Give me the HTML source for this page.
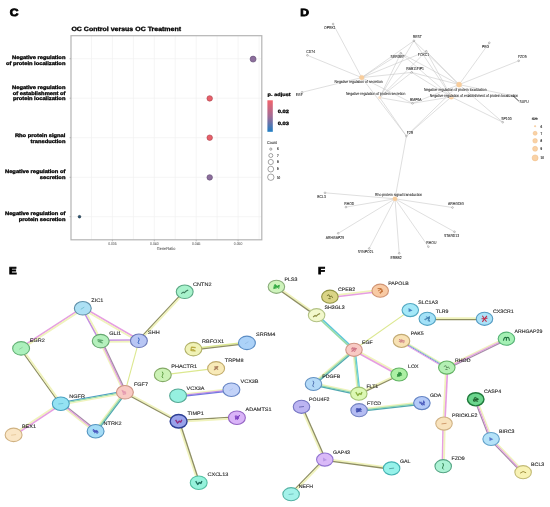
<!DOCTYPE html>
<html><head><meta charset="utf-8"><title>Figure</title>
<style>
html,body{margin:0;padding:0;background:#fff;}
body{width:550px;height:507px;overflow:hidden;}
svg{display:block;text-rendering:geometricPrecision;font-family:'Liberation Sans', Arial, sans-serif;}
</style></head><body>
<svg width="550" height="507" viewBox="0 0 550 507">
<rect width="550" height="507" fill="#fff"/>
<g id="panelC">
<text transform="translate(9.80,15.60) scale(0.6038,0.5250)" font-size="20" font-weight="bold" fill="#000" stroke="#000" stroke-width="1.524">C</text>
<text transform="translate(71.40,31.20) scale(0.3500,0.3070)" font-size="20" font-weight="bold" fill="#000" stroke="#000" stroke-width="0.977">OC Control versus OC Treatment</text>
<line x1="91.5" y1="35.7" x2="91.5" y2="239.8" stroke="#f0f0f0" stroke-width="0.7"/>
<line x1="133.4" y1="35.7" x2="133.4" y2="239.8" stroke="#f0f0f0" stroke-width="0.7"/>
<line x1="175.2" y1="35.7" x2="175.2" y2="239.8" stroke="#f0f0f0" stroke-width="0.7"/>
<line x1="217.1" y1="35.7" x2="217.1" y2="239.8" stroke="#f0f0f0" stroke-width="0.7"/>
<line x1="259.1" y1="35.7" x2="259.1" y2="239.8" stroke="#f0f0f0" stroke-width="0.7"/>
<line x1="112.4" y1="35.7" x2="112.4" y2="239.8" stroke="#f0f0f0" stroke-width="0.7"/>
<line x1="154.3" y1="35.7" x2="154.3" y2="239.8" stroke="#f0f0f0" stroke-width="0.7"/>
<line x1="196.2" y1="35.7" x2="196.2" y2="239.8" stroke="#f0f0f0" stroke-width="0.7"/>
<line x1="238.1" y1="35.7" x2="238.1" y2="239.8" stroke="#f0f0f0" stroke-width="0.7"/>
<line x1="71.0" y1="58.7" x2="261.8" y2="58.7" stroke="#f0f0f0" stroke-width="0.7"/>
<line x1="71.0" y1="98.2" x2="261.8" y2="98.2" stroke="#f0f0f0" stroke-width="0.7"/>
<line x1="71.0" y1="137.7" x2="261.8" y2="137.7" stroke="#f0f0f0" stroke-width="0.7"/>
<line x1="71.0" y1="177.3" x2="261.8" y2="177.3" stroke="#f0f0f0" stroke-width="0.7"/>
<line x1="71.0" y1="216.7" x2="261.8" y2="216.7" stroke="#f0f0f0" stroke-width="0.7"/>
<rect x="71.0" y="35.7" width="190.8" height="204.10000000000002" fill="none" stroke="#b4b4b4" stroke-width="1.2"/>
<line x1="69.5" y1="58.7" x2="71.0" y2="58.7" stroke="#999" stroke-width="0.6"/>
<line x1="69.5" y1="98.2" x2="71.0" y2="98.2" stroke="#999" stroke-width="0.6"/>
<line x1="69.5" y1="137.7" x2="71.0" y2="137.7" stroke="#999" stroke-width="0.6"/>
<line x1="69.5" y1="177.3" x2="71.0" y2="177.3" stroke="#999" stroke-width="0.6"/>
<line x1="69.5" y1="216.7" x2="71.0" y2="216.7" stroke="#999" stroke-width="0.6"/>
<line x1="112.4" y1="239.8" x2="112.4" y2="241.3" stroke="#999" stroke-width="0.6"/>
<line x1="154.3" y1="239.8" x2="154.3" y2="241.3" stroke="#999" stroke-width="0.6"/>
<line x1="196.2" y1="239.8" x2="196.2" y2="241.3" stroke="#999" stroke-width="0.6"/>
<line x1="238.1" y1="239.8" x2="238.1" y2="241.3" stroke="#999" stroke-width="0.6"/>
<text transform="translate(112.40,245.00) scale(0.1700,0.2000)" font-size="20" text-anchor="middle" fill="#444">0.035</text>
<text transform="translate(154.30,245.00) scale(0.1700,0.2000)" font-size="20" text-anchor="middle" fill="#444">0.040</text>
<text transform="translate(196.20,245.00) scale(0.1700,0.2000)" font-size="20" text-anchor="middle" fill="#444">0.045</text>
<text transform="translate(238.10,245.00) scale(0.1700,0.2000)" font-size="20" text-anchor="middle" fill="#444">0.050</text>
<text transform="translate(166.00,250.40) scale(0.1950,0.2191)" font-size="20" text-anchor="middle" fill="#333">GeneRatio</text>
<text transform="translate(65.40,58.60) scale(0.2875,0.2500)" font-size="20" text-anchor="end" font-weight="bold" fill="#000" stroke="#000" stroke-width="1.200">Negative regulation</text>
<text transform="translate(65.40,64.50) scale(0.2875,0.2500)" font-size="20" text-anchor="end" font-weight="bold" fill="#000" stroke="#000" stroke-width="1.200">of protein localization</text>
<text transform="translate(65.40,88.60) scale(0.2875,0.2500)" font-size="20" text-anchor="end" font-weight="bold" fill="#000" stroke="#000" stroke-width="1.200">Negative regulation</text>
<text transform="translate(65.40,94.50) scale(0.2875,0.2500)" font-size="20" text-anchor="end" font-weight="bold" fill="#000" stroke="#000" stroke-width="1.200">of establishment of</text>
<text transform="translate(65.40,100.30) scale(0.2875,0.2500)" font-size="20" text-anchor="end" font-weight="bold" fill="#000" stroke="#000" stroke-width="1.200">protein localization</text>
<text transform="translate(65.40,136.60) scale(0.2875,0.2500)" font-size="20" text-anchor="end" font-weight="bold" fill="#000" stroke="#000" stroke-width="1.200">Rho protein signal</text>
<text transform="translate(65.40,142.60) scale(0.2875,0.2500)" font-size="20" text-anchor="end" font-weight="bold" fill="#000" stroke="#000" stroke-width="1.200">transduction</text>
<text transform="translate(65.40,172.80) scale(0.2875,0.2500)" font-size="20" text-anchor="end" font-weight="bold" fill="#000" stroke="#000" stroke-width="1.200">Negative regulation of</text>
<text transform="translate(65.40,178.80) scale(0.2875,0.2500)" font-size="20" text-anchor="end" font-weight="bold" fill="#000" stroke="#000" stroke-width="1.200">secretion</text>
<text transform="translate(65.40,214.70) scale(0.2875,0.2500)" font-size="20" text-anchor="end" font-weight="bold" fill="#000" stroke="#000" stroke-width="1.200">Negative regulation of</text>
<text transform="translate(65.40,220.80) scale(0.2875,0.2500)" font-size="20" text-anchor="end" font-weight="bold" fill="#000" stroke="#000" stroke-width="1.200">protein secretion</text>
<circle cx="253.1" cy="59.1" r="3.0" fill="#8c6e9c" stroke="#5e4870" stroke-width="0.6"/>
<circle cx="209.7" cy="98.4" r="2.75" fill="#e8606a" stroke="#a8404a" stroke-width="0.6"/>
<circle cx="209.7" cy="137.7" r="2.75" fill="#e8606a" stroke="#a8404a" stroke-width="0.6"/>
<circle cx="209.7" cy="177.4" r="2.75" fill="#8c6e9c" stroke="#5e4870" stroke-width="0.6"/>
<circle cx="79.5" cy="216.7" r="1.3" fill="#24567c" stroke="#10202c" stroke-width="0.6"/>
<text transform="translate(267.60,95.90) scale(0.2800,0.2333)" font-size="20" font-weight="bold" fill="#000" stroke="#000" stroke-width="1.071">p. adjust</text>
<defs><linearGradient id="pg" x1="0" y1="0" x2="0" y2="1"><stop offset="0" stop-color="#f2636b"/><stop offset="0.5" stop-color="#a46c95"/><stop offset="1" stop-color="#1f7ec4"/></linearGradient></defs>
<rect x="267.4" y="100.3" width="5.4" height="31.5" fill="url(#pg)"/>
<text transform="translate(277.80,113.10) scale(0.2850,0.2375)" font-size="20" font-weight="bold" fill="#000" stroke="#000" stroke-width="1.263">0.02</text>
<text transform="translate(277.80,124.90) scale(0.2850,0.2375)" font-size="20" font-weight="bold" fill="#000" stroke="#000" stroke-width="1.263">0.03</text>
<text transform="translate(267.10,143.60) scale(0.1800,0.2143)" font-size="20" fill="#222" stroke="#222" stroke-width="0.373">Count</text>
<circle cx="270.8" cy="149.1" r="1.1" fill="none" stroke="#5a5a5a" stroke-width="0.55"/>
<text transform="translate(276.90,150.40) scale(0.1500,0.1875)" font-size="20" fill="#222" stroke="#222" stroke-width="0.800">6</text>
<circle cx="270.8" cy="155.5" r="2.0" fill="none" stroke="#5a5a5a" stroke-width="0.55"/>
<text transform="translate(276.90,156.80) scale(0.1500,0.1875)" font-size="20" fill="#222" stroke="#222" stroke-width="0.800">7</text>
<circle cx="270.8" cy="162.0" r="2.6" fill="none" stroke="#5a5a5a" stroke-width="0.55"/>
<text transform="translate(276.90,163.30) scale(0.1500,0.1875)" font-size="20" fill="#222" stroke="#222" stroke-width="0.800">8</text>
<circle cx="270.8" cy="169.1" r="2.9" fill="none" stroke="#5a5a5a" stroke-width="0.55"/>
<text transform="translate(276.90,170.40) scale(0.1500,0.1875)" font-size="20" fill="#222" stroke="#222" stroke-width="0.800">9</text>
<circle cx="270.8" cy="177.2" r="3.2" fill="none" stroke="#5a5a5a" stroke-width="0.55"/>
<text transform="translate(276.90,178.50) scale(0.1500,0.1875)" font-size="20" fill="#222" stroke="#222" stroke-width="0.800">10</text>
</g>
<g id="panelD">
<text transform="translate(300.20,15.50) scale(0.6038,0.5250)" font-size="20" font-weight="bold" fill="#000" stroke="#000" stroke-width="1.524">D</text>
<line x1="333.1" y1="24.0" x2="361.7" y2="77.6" stroke="#c4c4c4" stroke-width="0.55"/>
<line x1="307.4" y1="55.3" x2="361.7" y2="77.6" stroke="#c4c4c4" stroke-width="0.55"/>
<line x1="302.0" y1="92.3" x2="361.7" y2="77.6" stroke="#c4c4c4" stroke-width="0.55"/>
<line x1="489.3" y1="42.8" x2="459.1" y2="84.6" stroke="#c4c4c4" stroke-width="0.55"/>
<line x1="518.7" y1="60.8" x2="459.1" y2="84.6" stroke="#c4c4c4" stroke-width="0.55"/>
<line x1="513.0" y1="96.0" x2="451.3" y2="96.9" stroke="#c4c4c4" stroke-width="0.55"/>
<line x1="502.7" y1="122.2" x2="451.3" y2="96.9" stroke="#c4c4c4" stroke-width="0.55"/>
<line x1="325.0" y1="192.8" x2="395.0" y2="198.8" stroke="#c4c4c4" stroke-width="0.55"/>
<line x1="345.9" y1="207.1" x2="395.0" y2="198.8" stroke="#c4c4c4" stroke-width="0.55"/>
<line x1="452.5" y1="207.5" x2="395.0" y2="198.8" stroke="#c4c4c4" stroke-width="0.55"/>
<line x1="338.2" y1="233.3" x2="395.0" y2="198.8" stroke="#c4c4c4" stroke-width="0.55"/>
<line x1="369.2" y1="248.5" x2="395.0" y2="198.8" stroke="#c4c4c4" stroke-width="0.55"/>
<line x1="399.2" y1="253.3" x2="395.0" y2="198.8" stroke="#c4c4c4" stroke-width="0.55"/>
<line x1="428.4" y1="246.7" x2="395.0" y2="198.8" stroke="#c4c4c4" stroke-width="0.55"/>
<line x1="454.5" y1="231.8" x2="395.0" y2="198.8" stroke="#c4c4c4" stroke-width="0.55"/>
<line x1="413.9" y1="40.8" x2="361.7" y2="77.6" stroke="#c4c4c4" stroke-width="0.55"/>
<line x1="413.9" y1="40.8" x2="379.7" y2="97.6" stroke="#c4c4c4" stroke-width="0.55"/>
<line x1="413.9" y1="40.8" x2="459.1" y2="84.6" stroke="#c4c4c4" stroke-width="0.55"/>
<line x1="413.9" y1="40.8" x2="451.3" y2="96.9" stroke="#c4c4c4" stroke-width="0.55"/>
<line x1="400.8" y1="53.2" x2="361.7" y2="77.6" stroke="#c4c4c4" stroke-width="0.55"/>
<line x1="400.8" y1="53.2" x2="379.7" y2="97.6" stroke="#c4c4c4" stroke-width="0.55"/>
<line x1="400.8" y1="53.2" x2="459.1" y2="84.6" stroke="#c4c4c4" stroke-width="0.55"/>
<line x1="400.8" y1="53.2" x2="451.3" y2="96.9" stroke="#c4c4c4" stroke-width="0.55"/>
<line x1="426.3" y1="51.3" x2="361.7" y2="77.6" stroke="#c4c4c4" stroke-width="0.55"/>
<line x1="426.3" y1="51.3" x2="379.7" y2="97.6" stroke="#c4c4c4" stroke-width="0.55"/>
<line x1="426.3" y1="51.3" x2="459.1" y2="84.6" stroke="#c4c4c4" stroke-width="0.55"/>
<line x1="426.3" y1="51.3" x2="451.3" y2="96.9" stroke="#c4c4c4" stroke-width="0.55"/>
<line x1="411.7" y1="72.4" x2="361.7" y2="77.6" stroke="#c4c4c4" stroke-width="0.55"/>
<line x1="411.7" y1="72.4" x2="379.7" y2="97.6" stroke="#c4c4c4" stroke-width="0.55"/>
<line x1="411.7" y1="72.4" x2="459.1" y2="84.6" stroke="#c4c4c4" stroke-width="0.55"/>
<line x1="411.7" y1="72.4" x2="451.3" y2="96.9" stroke="#c4c4c4" stroke-width="0.55"/>
<line x1="412.5" y1="103.3" x2="361.7" y2="77.6" stroke="#c4c4c4" stroke-width="0.55"/>
<line x1="412.5" y1="103.3" x2="379.7" y2="97.6" stroke="#c4c4c4" stroke-width="0.55"/>
<line x1="412.5" y1="103.3" x2="459.1" y2="84.6" stroke="#c4c4c4" stroke-width="0.55"/>
<line x1="412.5" y1="103.3" x2="451.3" y2="96.9" stroke="#c4c4c4" stroke-width="0.55"/>
<line x1="406.4" y1="136.0" x2="361.7" y2="77.6" stroke="#c4c4c4" stroke-width="0.55"/>
<line x1="406.4" y1="136.0" x2="379.7" y2="97.6" stroke="#c4c4c4" stroke-width="0.55"/>
<line x1="406.4" y1="136.0" x2="451.3" y2="96.9" stroke="#c4c4c4" stroke-width="0.55"/>
<line x1="406.4" y1="136.0" x2="459.1" y2="84.6" stroke="#c4c4c4" stroke-width="0.55"/>
<line x1="406.4" y1="136.0" x2="395.0" y2="198.8" stroke="#c4c4c4" stroke-width="0.55"/>
<line x1="502.7" y1="122.2" x2="459.1" y2="84.6" stroke="#c4c4c4" stroke-width="0.55"/>
<line x1="513.0" y1="96.0" x2="459.1" y2="84.6" stroke="#c4c4c4" stroke-width="0.55"/>
<circle cx="361.7" cy="77.6" r="2.4" fill="#f8cd9c" stroke="#f8cd9c" stroke-width="0.3"/>
<circle cx="379.7" cy="97.6" r="1.3" fill="#fbe0c4" stroke="#fbe0c4" stroke-width="0.3"/>
<circle cx="459.1" cy="84.6" r="2.6" fill="#f8cd9c" stroke="#f8cd9c" stroke-width="0.3"/>
<circle cx="451.3" cy="96.9" r="2.4" fill="#f8cd9c" stroke="#f8cd9c" stroke-width="0.3"/>
<circle cx="395.0" cy="198.8" r="2.2" fill="#f8cd9c" stroke="#f8cd9c" stroke-width="0.3"/>
<circle cx="333.1" cy="24.0" r="0.85" fill="#fff" stroke="#555" stroke-width="0.35"/>
<circle cx="307.4" cy="55.3" r="0.85" fill="#fff" stroke="#555" stroke-width="0.35"/>
<circle cx="302.0" cy="92.3" r="0.85" fill="#fff" stroke="#555" stroke-width="0.35"/>
<circle cx="413.9" cy="40.8" r="0.85" fill="#fff" stroke="#555" stroke-width="0.35"/>
<circle cx="400.8" cy="53.2" r="0.85" fill="#fff" stroke="#555" stroke-width="0.35"/>
<circle cx="426.3" cy="51.3" r="0.85" fill="#fff" stroke="#555" stroke-width="0.35"/>
<circle cx="411.7" cy="72.4" r="0.85" fill="#fff" stroke="#555" stroke-width="0.35"/>
<circle cx="412.5" cy="103.3" r="0.85" fill="#fff" stroke="#555" stroke-width="0.35"/>
<circle cx="489.3" cy="42.8" r="0.85" fill="#fff" stroke="#555" stroke-width="0.35"/>
<circle cx="518.7" cy="60.8" r="0.85" fill="#fff" stroke="#555" stroke-width="0.35"/>
<circle cx="513.0" cy="96.0" r="0.85" fill="#fff" stroke="#555" stroke-width="0.35"/>
<circle cx="502.7" cy="122.2" r="0.85" fill="#fff" stroke="#555" stroke-width="0.35"/>
<circle cx="406.4" cy="136.0" r="0.85" fill="#fff" stroke="#555" stroke-width="0.35"/>
<circle cx="325.0" cy="192.8" r="0.85" fill="#fff" stroke="#555" stroke-width="0.35"/>
<circle cx="345.9" cy="207.1" r="0.85" fill="#fff" stroke="#555" stroke-width="0.35"/>
<circle cx="452.5" cy="207.5" r="0.85" fill="#fff" stroke="#555" stroke-width="0.35"/>
<circle cx="338.2" cy="233.3" r="0.85" fill="#fff" stroke="#555" stroke-width="0.35"/>
<circle cx="369.2" cy="248.5" r="0.85" fill="#fff" stroke="#555" stroke-width="0.35"/>
<circle cx="399.2" cy="253.3" r="0.85" fill="#fff" stroke="#555" stroke-width="0.35"/>
<circle cx="428.4" cy="246.7" r="0.85" fill="#fff" stroke="#555" stroke-width="0.35"/>
<circle cx="454.5" cy="231.8" r="0.85" fill="#fff" stroke="#555" stroke-width="0.35"/>
<text transform="translate(324.00,29.10) scale(0.1710,0.2085)" font-size="20" fill="#fff" stroke="#fff" stroke-width="3.357" stroke-linejoin="round" opacity="0.8">OPRK1</text>
<text transform="translate(306.30,52.80) scale(0.1710,0.2085)" font-size="20" fill="#fff" stroke="#fff" stroke-width="3.357" stroke-linejoin="round" opacity="0.8">CD74</text>
<text transform="translate(295.70,95.70) scale(0.1710,0.2085)" font-size="20" fill="#fff" stroke="#fff" stroke-width="3.357" stroke-linejoin="round" opacity="0.8">EGF</text>
<text transform="translate(412.70,38.40) scale(0.1710,0.2085)" font-size="20" fill="#fff" stroke="#fff" stroke-width="3.357" stroke-linejoin="round" opacity="0.8">REST</text>
<text transform="translate(390.60,58.00) scale(0.1710,0.2085)" font-size="20" fill="#fff" stroke="#fff" stroke-width="3.357" stroke-linejoin="round" opacity="0.8">SERGEF</text>
<text transform="translate(417.80,56.10) scale(0.1710,0.2085)" font-size="20" fill="#fff" stroke="#fff" stroke-width="3.357" stroke-linejoin="round" opacity="0.8">FOXC1</text>
<text transform="translate(406.20,69.90) scale(0.1710,0.2085)" font-size="20" fill="#fff" stroke="#fff" stroke-width="3.357" stroke-linejoin="round" opacity="0.8">RAB11FIP1</text>
<text transform="translate(410.00,100.80) scale(0.1710,0.2085)" font-size="20" fill="#fff" stroke="#fff" stroke-width="3.357" stroke-linejoin="round" opacity="0.8">BMP6A</text>
<text transform="translate(482.00,47.90) scale(0.1710,0.2085)" font-size="20" fill="#fff" stroke="#fff" stroke-width="3.357" stroke-linejoin="round" opacity="0.8">PKG</text>
<text transform="translate(518.00,58.10) scale(0.1710,0.2085)" font-size="20" fill="#fff" stroke="#fff" stroke-width="3.357" stroke-linejoin="round" opacity="0.8">FZD9</text>
<text transform="translate(519.50,103.30) scale(0.1710,0.2085)" font-size="20" fill="#fff" stroke="#fff" stroke-width="3.357" stroke-linejoin="round" opacity="0.8">SUFU</text>
<text transform="translate(501.30,119.70) scale(0.1710,0.2085)" font-size="20" fill="#fff" stroke="#fff" stroke-width="3.357" stroke-linejoin="round" opacity="0.8">SP100</text>
<text transform="translate(406.80,133.70) scale(0.1710,0.2085)" font-size="20" fill="#fff" stroke="#fff" stroke-width="3.357" stroke-linejoin="round" opacity="0.8">F2R</text>
<text transform="translate(317.30,197.80) scale(0.1710,0.2085)" font-size="20" fill="#fff" stroke="#fff" stroke-width="3.357" stroke-linejoin="round" opacity="0.8">BCL3</text>
<text transform="translate(344.20,204.70) scale(0.1710,0.2085)" font-size="20" fill="#fff" stroke="#fff" stroke-width="3.357" stroke-linejoin="round" opacity="0.8">RHOD</text>
<text transform="translate(448.00,204.80) scale(0.1710,0.2085)" font-size="20" fill="#fff" stroke="#fff" stroke-width="3.357" stroke-linejoin="round" opacity="0.8">ARHGDIG</text>
<text transform="translate(325.80,238.80) scale(0.1710,0.2085)" font-size="20" fill="#fff" stroke="#fff" stroke-width="3.357" stroke-linejoin="round" opacity="0.8">ARHGAP29</text>
<text transform="translate(357.80,253.40) scale(0.1710,0.2085)" font-size="20" fill="#fff" stroke="#fff" stroke-width="3.357" stroke-linejoin="round" opacity="0.8">SYNPO2L</text>
<text transform="translate(390.50,258.90) scale(0.1710,0.2085)" font-size="20" fill="#fff" stroke="#fff" stroke-width="3.357" stroke-linejoin="round" opacity="0.8">ERBB2</text>
<text transform="translate(426.30,243.90) scale(0.1710,0.2085)" font-size="20" fill="#fff" stroke="#fff" stroke-width="3.357" stroke-linejoin="round" opacity="0.8">RHOU</text>
<text transform="translate(444.00,237.10) scale(0.1710,0.2085)" font-size="20" fill="#fff" stroke="#fff" stroke-width="3.357" stroke-linejoin="round" opacity="0.8">STARD13</text>
<text transform="translate(334.60,83.40) scale(0.1710,0.2085)" font-size="20" fill="#fff" stroke="#fff" stroke-width="3.357" stroke-linejoin="round" opacity="0.8">Negative regulation of secretion</text>
<text transform="translate(345.90,94.90) scale(0.1710,0.2085)" font-size="20" fill="#fff" stroke="#fff" stroke-width="3.357" stroke-linejoin="round" opacity="0.8">Negative regulation of protein secretion</text>
<text transform="translate(424.00,91.10) scale(0.1710,0.2085)" font-size="20" fill="#fff" stroke="#fff" stroke-width="3.357" stroke-linejoin="round" opacity="0.8">Negative regulation of protein localization</text>
<text transform="translate(429.80,96.50) scale(0.1710,0.2085)" font-size="20" fill="#fff" stroke="#fff" stroke-width="3.357" stroke-linejoin="round" opacity="0.8">Negative regulation of establishment of protein localization</text>
<text transform="translate(375.10,196.20) scale(0.1710,0.2085)" font-size="20" fill="#fff" stroke="#fff" stroke-width="3.357" stroke-linejoin="round" opacity="0.8">Rho protein signal transduction</text>
<text transform="translate(324.00,29.10) scale(0.1710,0.2085)" font-size="20" fill="#111" stroke="#111" stroke-width="0.240">OPRK1</text>
<text transform="translate(306.30,52.80) scale(0.1710,0.2085)" font-size="20" fill="#111" stroke="#111" stroke-width="0.240">CD74</text>
<text transform="translate(295.70,95.70) scale(0.1710,0.2085)" font-size="20" fill="#111" stroke="#111" stroke-width="0.240">EGF</text>
<text transform="translate(412.70,38.40) scale(0.1710,0.2085)" font-size="20" fill="#111" stroke="#111" stroke-width="0.240">REST</text>
<text transform="translate(390.60,58.00) scale(0.1710,0.2085)" font-size="20" fill="#111" stroke="#111" stroke-width="0.240">SERGEF</text>
<text transform="translate(417.80,56.10) scale(0.1710,0.2085)" font-size="20" fill="#111" stroke="#111" stroke-width="0.240">FOXC1</text>
<text transform="translate(406.20,69.90) scale(0.1710,0.2085)" font-size="20" fill="#111" stroke="#111" stroke-width="0.240">RAB11FIP1</text>
<text transform="translate(410.00,100.80) scale(0.1710,0.2085)" font-size="20" fill="#111" stroke="#111" stroke-width="0.240">BMP6A</text>
<text transform="translate(482.00,47.90) scale(0.1710,0.2085)" font-size="20" fill="#111" stroke="#111" stroke-width="0.240">PKG</text>
<text transform="translate(518.00,58.10) scale(0.1710,0.2085)" font-size="20" fill="#111" stroke="#111" stroke-width="0.240">FZD9</text>
<text transform="translate(519.50,103.30) scale(0.1710,0.2085)" font-size="20" fill="#111" stroke="#111" stroke-width="0.240">SUFU</text>
<text transform="translate(501.30,119.70) scale(0.1710,0.2085)" font-size="20" fill="#111" stroke="#111" stroke-width="0.240">SP100</text>
<text transform="translate(406.80,133.70) scale(0.1710,0.2085)" font-size="20" fill="#111" stroke="#111" stroke-width="0.240">F2R</text>
<text transform="translate(317.30,197.80) scale(0.1710,0.2085)" font-size="20" fill="#111" stroke="#111" stroke-width="0.240">BCL3</text>
<text transform="translate(344.20,204.70) scale(0.1710,0.2085)" font-size="20" fill="#111" stroke="#111" stroke-width="0.240">RHOD</text>
<text transform="translate(448.00,204.80) scale(0.1710,0.2085)" font-size="20" fill="#111" stroke="#111" stroke-width="0.240">ARHGDIG</text>
<text transform="translate(325.80,238.80) scale(0.1710,0.2085)" font-size="20" fill="#111" stroke="#111" stroke-width="0.240">ARHGAP29</text>
<text transform="translate(357.80,253.40) scale(0.1710,0.2085)" font-size="20" fill="#111" stroke="#111" stroke-width="0.240">SYNPO2L</text>
<text transform="translate(390.50,258.90) scale(0.1710,0.2085)" font-size="20" fill="#111" stroke="#111" stroke-width="0.240">ERBB2</text>
<text transform="translate(426.30,243.90) scale(0.1710,0.2085)" font-size="20" fill="#111" stroke="#111" stroke-width="0.240">RHOU</text>
<text transform="translate(444.00,237.10) scale(0.1710,0.2085)" font-size="20" fill="#111" stroke="#111" stroke-width="0.240">STARD13</text>
<text transform="translate(334.60,83.40) scale(0.1710,0.2085)" font-size="20" fill="#111" stroke="#111" stroke-width="0.240">Negative regulation of secretion</text>
<text transform="translate(345.90,94.90) scale(0.1710,0.2085)" font-size="20" fill="#111" stroke="#111" stroke-width="0.240">Negative regulation of protein secretion</text>
<text transform="translate(424.00,91.10) scale(0.1710,0.2085)" font-size="20" fill="#111" stroke="#111" stroke-width="0.240">Negative regulation of protein localization</text>
<text transform="translate(429.80,96.50) scale(0.1710,0.2085)" font-size="20" fill="#111" stroke="#111" stroke-width="0.240">Negative regulation of establishment of protein localization</text>
<text transform="translate(375.10,196.20) scale(0.1710,0.2085)" font-size="20" fill="#111" stroke="#111" stroke-width="0.240">Rho protein signal transduction</text>
<line x1="512.9" y1="95.6" x2="518.9" y2="101.2" stroke="#222" stroke-width="0.8"/>
<text transform="translate(531.70,120.20) scale(0.1700,0.2024)" font-size="20" fill="#111" stroke="#111" stroke-width="0.692">size</text>
<circle cx="535.1" cy="126.2" r="0.7" fill="#f9d2a6" stroke="#efb77e" stroke-width="0.45"/>
<text transform="translate(540.60,127.50) scale(0.1500,0.1875)" font-size="20" fill="#111" stroke="#111" stroke-width="0.747">6</text>
<circle cx="535.1" cy="133.3" r="2.0" fill="#f9d2a6" stroke="#efb77e" stroke-width="0.45"/>
<text transform="translate(540.60,134.60) scale(0.1500,0.1875)" font-size="20" fill="#111" stroke="#111" stroke-width="0.747">7</text>
<circle cx="535.1" cy="140.8" r="2.3" fill="#f9d2a6" stroke="#efb77e" stroke-width="0.45"/>
<text transform="translate(540.60,142.10) scale(0.1500,0.1875)" font-size="20" fill="#111" stroke="#111" stroke-width="0.747">8</text>
<circle cx="535.1" cy="148.8" r="2.5" fill="#f9d2a6" stroke="#efb77e" stroke-width="0.45"/>
<text transform="translate(540.60,150.10) scale(0.1500,0.1875)" font-size="20" fill="#111" stroke="#111" stroke-width="0.747">9</text>
<circle cx="535.1" cy="157.9" r="3.0" fill="#f9d2a6" stroke="#efb77e" stroke-width="0.45"/>
<text transform="translate(540.60,159.20) scale(0.1500,0.1875)" font-size="20" fill="#111" stroke="#111" stroke-width="0.747">10</text>
</g>
<g id="string">
<line x1="82.35" y1="307.60" x2="20.65" y2="347.70" stroke="#e69ee2" stroke-width="1.65"/>
<line x1="83.21" y1="308.94" x2="21.51" y2="349.04" stroke="#f0f3bc" stroke-width="1.815"/>
<line x1="82.07" y1="308.70" x2="99.97" y2="341.50" stroke="#c48ee2" stroke-width="1.65"/>
<line x1="83.47" y1="307.94" x2="101.37" y2="340.74" stroke="#f0f3bc" stroke-width="1.815"/>
<line x1="83.22" y1="307.58" x2="139.32" y2="340.08" stroke="#e69ee2" stroke-width="1.65"/>
<line x1="82.42" y1="308.96" x2="138.52" y2="341.46" stroke="#f0f3bc" stroke-width="1.815"/>
<line x1="100.69" y1="340.27" x2="138.89" y2="339.97" stroke="#c48ee2" stroke-width="1.65"/>
<line x1="100.71" y1="341.86" x2="138.91" y2="341.56" stroke="#f0f3bc" stroke-width="1.815"/>
<line x1="99.66" y1="341.59" x2="123.86" y2="392.79" stroke="#f0f3bc" stroke-width="1.375"/>
<line x1="100.75" y1="341.08" x2="124.95" y2="392.28" stroke="#e69ee2" stroke-width="1.25"/>
<line x1="101.79" y1="340.58" x2="125.99" y2="391.78" stroke="#a68ca8" stroke-width="1.25"/>
<line x1="138.90" y1="340.80" x2="124.90" y2="392.30" stroke="#dce890" stroke-width="1.1"/>
<line x1="138.29" y1="340.23" x2="184.09" y2="291.23" stroke="#8e8e62" stroke-width="1.32"/>
<line x1="139.34" y1="341.21" x2="185.14" y2="292.21" stroke="#f0f3bc" stroke-width="1.815"/>
<line x1="20.42" y1="348.89" x2="60.12" y2="404.19" stroke="#8e8e62" stroke-width="1.32"/>
<line x1="21.59" y1="348.05" x2="61.29" y2="403.35" stroke="#f0f3bc" stroke-width="1.815"/>
<line x1="60.59" y1="402.51" x2="124.69" y2="391.11" stroke="#4e9cc4" stroke-width="1.25"/>
<line x1="60.79" y1="403.64" x2="124.89" y2="392.24" stroke="#98dca8" stroke-width="1.25"/>
<line x1="61.00" y1="404.83" x2="125.10" y2="393.43" stroke="#f0f3bc" stroke-width="1.375"/>
<line x1="61.55" y1="402.75" x2="96.35" y2="430.25" stroke="#a68ca8" stroke-width="1.25"/>
<line x1="60.84" y1="403.65" x2="95.64" y2="431.15" stroke="#e69ee2" stroke-width="1.25"/>
<line x1="60.09" y1="404.60" x2="94.89" y2="432.10" stroke="#f0f3bc" stroke-width="1.375"/>
<line x1="94.68" y1="430.51" x2="123.98" y2="391.61" stroke="#f0f3bc" stroke-width="1.375"/>
<line x1="95.65" y1="431.23" x2="124.95" y2="392.33" stroke="#98dca8" stroke-width="1.25"/>
<line x1="96.56" y1="431.93" x2="125.86" y2="393.03" stroke="#50a8b0" stroke-width="1.25"/>
<line x1="60.38" y1="403.07" x2="13.18" y2="434.27" stroke="#f0f3bc" stroke-width="1.815"/>
<line x1="61.26" y1="404.40" x2="14.06" y2="435.60" stroke="#e69ee2" stroke-width="1.65"/>
<line x1="125.19" y1="391.77" x2="178.89" y2="420.77" stroke="#f0f3bc" stroke-width="1.815"/>
<line x1="124.50" y1="393.03" x2="178.20" y2="422.03" stroke="#8e8e62" stroke-width="1.32"/>
<line x1="178.55" y1="420.47" x2="236.85" y2="416.87" stroke="#8e8e62" stroke-width="1.32"/>
<line x1="178.64" y1="421.91" x2="236.94" y2="418.31" stroke="#f0f3bc" stroke-width="1.815"/>
<line x1="178.02" y1="421.49" x2="198.12" y2="482.89" stroke="#f0f3bc" stroke-width="1.815"/>
<line x1="179.39" y1="421.04" x2="199.49" y2="482.44" stroke="#8e8e62" stroke-width="1.32"/>
<line x1="193.33" y1="348.50" x2="246.83" y2="342.30" stroke="#dce890" stroke-width="1.65"/>
<line x1="193.49" y1="349.85" x2="246.99" y2="343.65" stroke="#8e8e62" stroke-width="1.32"/>
<line x1="162.80" y1="374.90" x2="216.10" y2="368.40" stroke="#dce890" stroke-width="1.1"/>
<line x1="177.97" y1="394.56" x2="231.27" y2="388.56" stroke="#f0f3bc" stroke-width="1.375"/>
<line x1="178.11" y1="395.76" x2="231.41" y2="389.76" stroke="#c48ee2" stroke-width="1.25"/>
<line x1="178.24" y1="396.90" x2="231.54" y2="390.90" stroke="#7478e0" stroke-width="1.25"/>
<line x1="276.75" y1="286.30" x2="316.95" y2="314.70" stroke="#f0f3bc" stroke-width="1.815"/>
<line x1="275.92" y1="287.48" x2="316.12" y2="315.88" stroke="#8e8e62" stroke-width="1.32"/>
<line x1="329.81" y1="295.95" x2="380.11" y2="289.95" stroke="#f0f3bc" stroke-width="1.815"/>
<line x1="330.00" y1="297.53" x2="380.30" y2="291.53" stroke="#e69ee2" stroke-width="1.65"/>
<line x1="317.12" y1="314.64" x2="354.52" y2="349.24" stroke="#60c8d8" stroke-width="1.65"/>
<line x1="316.08" y1="315.76" x2="353.48" y2="350.36" stroke="#98dca8" stroke-width="1.65"/>
<line x1="410.30" y1="310.10" x2="354.00" y2="349.80" stroke="#dce890" stroke-width="1.1"/>
<line x1="427.30" y1="318.19" x2="484.50" y2="318.19" stroke="#f0f3bc" stroke-width="1.815"/>
<line x1="427.30" y1="319.63" x2="484.50" y2="319.63" stroke="#8e8e62" stroke-width="1.32"/>
<line x1="354.36" y1="349.13" x2="399.46" y2="373.83" stroke="#f0f3bc" stroke-width="1.815"/>
<line x1="353.60" y1="350.53" x2="398.70" y2="375.23" stroke="#e69ee2" stroke-width="1.65"/>
<line x1="353.26" y1="348.92" x2="312.76" y2="383.12" stroke="#f0f3bc" stroke-width="1.375"/>
<line x1="354.04" y1="349.84" x2="313.54" y2="384.04" stroke="#98dca8" stroke-width="1.25"/>
<line x1="354.78" y1="350.72" x2="314.28" y2="384.92" stroke="#50a8b0" stroke-width="1.25"/>
<line x1="352.86" y1="349.92" x2="357.66" y2="393.82" stroke="#f0f3bc" stroke-width="1.375"/>
<line x1="354.06" y1="349.79" x2="358.86" y2="393.69" stroke="#98dca8" stroke-width="1.25"/>
<line x1="355.20" y1="349.67" x2="360.00" y2="393.57" stroke="#60c8d8" stroke-width="1.25"/>
<line x1="313.74" y1="382.88" x2="359.04" y2="392.58" stroke="#f0f3bc" stroke-width="1.375"/>
<line x1="313.49" y1="384.06" x2="358.79" y2="393.76" stroke="#98dca8" stroke-width="1.25"/>
<line x1="313.25" y1="385.18" x2="358.55" y2="394.88" stroke="#50a8b0" stroke-width="1.25"/>
<line x1="398.84" y1="373.95" x2="358.54" y2="393.15" stroke="#f0f3bc" stroke-width="1.815"/>
<line x1="399.46" y1="375.25" x2="359.16" y2="394.45" stroke="#8e8e62" stroke-width="1.32"/>
<line x1="358.97" y1="409.06" x2="421.77" y2="401.96" stroke="#f0f3bc" stroke-width="1.375"/>
<line x1="359.11" y1="410.26" x2="421.91" y2="403.16" stroke="#98dca8" stroke-width="1.25"/>
<line x1="359.24" y1="411.40" x2="422.04" y2="404.30" stroke="#50a8b0" stroke-width="1.25"/>
<line x1="402.13" y1="339.83" x2="447.43" y2="366.53" stroke="#f0f3bc" stroke-width="0.9900000000000001"/>
<line x1="401.69" y1="340.58" x2="446.99" y2="367.28" stroke="#98dca8" stroke-width="0.9"/>
<line x1="401.27" y1="341.29" x2="446.57" y2="367.99" stroke="#7478e0" stroke-width="0.9"/>
<line x1="400.85" y1="342.01" x2="446.15" y2="368.71" stroke="#e69ee2" stroke-width="0.9"/>
<line x1="446.30" y1="366.57" x2="505.90" y2="337.67" stroke="#f0f3bc" stroke-width="1.375"/>
<line x1="446.83" y1="367.65" x2="506.43" y2="338.75" stroke="#e69ee2" stroke-width="1.25"/>
<line x1="447.33" y1="368.69" x2="506.93" y2="339.79" stroke="#a68ca8" stroke-width="1.25"/>
<line x1="446.04" y1="367.56" x2="443.24" y2="423.56" stroke="#f0f3bc" stroke-width="1.815"/>
<line x1="447.63" y1="367.64" x2="444.83" y2="423.64" stroke="#e69ee2" stroke-width="1.65"/>
<line x1="443.17" y1="423.58" x2="442.37" y2="466.18" stroke="#e69ee2" stroke-width="1.65"/>
<line x1="444.76" y1="423.61" x2="443.96" y2="466.21" stroke="#f0f3bc" stroke-width="1.815"/>
<line x1="474.57" y1="399.74" x2="489.97" y2="439.44" stroke="#a68ca8" stroke-width="1.25"/>
<line x1="475.65" y1="399.32" x2="491.05" y2="439.02" stroke="#e69ee2" stroke-width="1.25"/>
<line x1="476.77" y1="398.88" x2="492.17" y2="438.58" stroke="#f0f3bc" stroke-width="1.375"/>
<line x1="490.23" y1="439.84" x2="522.23" y2="473.04" stroke="#a68ca8" stroke-width="1.25"/>
<line x1="491.06" y1="439.04" x2="523.06" y2="472.24" stroke="#e69ee2" stroke-width="1.25"/>
<line x1="491.93" y1="438.20" x2="523.93" y2="471.40" stroke="#f0f3bc" stroke-width="1.375"/>
<line x1="300.94" y1="407.05" x2="324.24" y2="459.85" stroke="#f0f3bc" stroke-width="1.815"/>
<line x1="302.26" y1="406.46" x2="325.56" y2="459.26" stroke="#8e8e62" stroke-width="1.32"/>
<line x1="324.88" y1="459.00" x2="391.68" y2="467.80" stroke="#f0f3bc" stroke-width="1.815"/>
<line x1="324.69" y1="460.43" x2="391.49" y2="469.23" stroke="#8e8e62" stroke-width="1.32"/>
<line x1="324.20" y1="459.02" x2="290.50" y2="493.62" stroke="#8e8e62" stroke-width="1.32"/>
<line x1="325.23" y1="460.02" x2="291.53" y2="494.62" stroke="#f0f3bc" stroke-width="1.815"/>
<ellipse cx="82.8" cy="308.3" rx="8.45" ry="6.75" fill="#ade0f4" stroke="#5f8fa8" stroke-width="1.1"/>
<path d="M80.8,309.3 L84.3,307.1" stroke="#5ab0c0" stroke-width="0.9" fill="none" opacity="0.7"/>
<ellipse cx="100.7" cy="341.1" rx="8.45" ry="6.75" fill="#b4f0bc" stroke="#66a870" stroke-width="1.1"/>
<path d="M99.0,340.5 L103.1,340.5 L99.4,339.7 L98.3,341.7 L101.4,341.6 L100.2,340.7 L100.6,342.5 L102.6,342.9 L98.3,341.5 L97.8,339.7 L98.1,340.0 L99.1,338.9" fill="none" stroke="#60a870" stroke-width="1.0" stroke-linejoin="round" opacity="0.9"/>
<ellipse cx="138.9" cy="340.8" rx="8.45" ry="6.75" fill="#b8c6f4" stroke="#6a78b8" stroke-width="1.1"/>
<path d="M138.4,337.6 Q139.9,339.8 138.6,341.3 T139.3,344.0" stroke="#2f5fc0" stroke-width="1" fill="none"/>
<ellipse cx="184.7" cy="291.8" rx="8.45" ry="6.75" fill="#a8f2cc" stroke="#5aa884" stroke-width="1.1"/>
<path d="M181.2,293.6 L183.2,292.1 L184.2,292.8 L186.2,291.0 L188.2,290.0" stroke="#3c7c5c" stroke-width="1.1" fill="none"/>
<ellipse cx="21.1" cy="348.4" rx="8.45" ry="6.75" fill="#acf0bc" stroke="#62b074" stroke-width="1.1"/>
<path d="M19.1,349.4 L22.6,347.2" stroke="#80c090" stroke-width="0.9" fill="none" opacity="0.7"/>
<ellipse cx="60.8" cy="403.7" rx="8.45" ry="6.75" fill="#94e2f2" stroke="#48a0c0" stroke-width="1.1"/>
<path d="M58.3,404.0 L63.3,403.4" stroke="#60b8d0" stroke-width="0.9" fill="none" opacity="0.8"/>
<ellipse cx="13.6" cy="434.9" rx="8.45" ry="6.75" fill="#fae6c6" stroke="#d0b282" stroke-width="1.1"/>
<path d="M11.1,435.2 L16.1,434.59999999999997" stroke="#e0c090" stroke-width="0.9" fill="none" opacity="0.8"/>
<ellipse cx="95.6" cy="431.2" rx="8.45" ry="6.75" fill="#a4dcf6" stroke="#5494c0" stroke-width="1.1"/>
<path d="M94.0,433.0 L97.5,430.9 L97.8,432.0 L96.5,430.4 L93.4,431.4 L98.1,432.0 L96.3,430.7 L97.9,432.4 L97.1,433.6 L93.4,429.1 L93.0,430.7 L97.2,432.0" fill="none" stroke="#4a58c0" stroke-width="1.0" stroke-linejoin="round" opacity="0.9"/>
<ellipse cx="124.9" cy="392.3" rx="8.45" ry="6.75" fill="#f8cac4" stroke="#cc9484" stroke-width="1.1"/>
<path d="M121.9,389.9 L123.1,392.3 L123.4,392.4 L125.9,392.8 L124.5,394.4 L126.1,393.7 L122.2,390.9 L123.8,393.0 L122.9,390.4 L123.3,394.8 L125.4,391.7 L124.0,391.5" fill="none" stroke="#e49ab0" stroke-width="1.0" stroke-linejoin="round" opacity="0.9"/>
<ellipse cx="193.4" cy="349.1" rx="8.45" ry="6.75" fill="#f0f2b6" stroke="#b0b068" stroke-width="1.1"/>
<path d="M195.7,347.6 L191.7,347.1 L191.4,347.3 L190.9,350.4 L193.0,349.5 L195.2,351.0 L191.5,350.7" fill="none" stroke="#b0a030" stroke-width="1.1" stroke-linejoin="round" opacity="0.85"/>
<ellipse cx="246.9" cy="342.9" rx="8.45" ry="6.75" fill="#acd2f8" stroke="#5a8cc4" stroke-width="1.1"/>
<path d="M244.9,343.9 L248.4,341.7" stroke="#90b8e0" stroke-width="0.9" fill="none" opacity="0.7"/>
<ellipse cx="216.1" cy="368.4" rx="8.45" ry="6.75" fill="#f8eab8" stroke="#c0aa6a" stroke-width="1.1"/>
<path d="M218.1,369.7 L217.5,369.1 L215.9,367.6 L214.3,369.8 L216.3,368.6 L217.9,366.6 L214.1,367.0" fill="none" stroke="#a07050" stroke-width="1.1" stroke-linejoin="round" opacity="0.85"/>
<ellipse cx="162.8" cy="374.9" rx="8.45" ry="6.75" fill="#ccf2b6" stroke="#84aa66" stroke-width="1.1"/>
<path d="M162.3,371.7 Q163.8,373.9 162.5,375.4 T163.20000000000002,378.09999999999997" stroke="#5a9a40" stroke-width="1" fill="none"/>
<ellipse cx="178.1" cy="395.7" rx="8.45" ry="6.75" fill="#96f0e0" stroke="#54a894" stroke-width="1.1"/>
<ellipse cx="231.4" cy="389.7" rx="8.45" ry="6.75" fill="#c2d2f8" stroke="#6684c4" stroke-width="1.1"/>
<path d="M229.4,390.7 L232.9,388.5" stroke="#a0b8e8" stroke-width="0.9" fill="none" opacity="0.7"/>
<ellipse cx="178.6" cy="421.3" rx="8.45" ry="6.75" fill="#98a2ea" stroke="#2c3e94" stroke-width="1.45"/>
<path d="M175.6,419.8 L177.6,423.1 L179.2,421.1 L180.79999999999998,422.1 L181.79999999999998,419.7" fill="none" stroke="#902c80" stroke-width="1.3" stroke-linejoin="round"/>
<ellipse cx="236.9" cy="417.7" rx="8.45" ry="6.75" fill="#dab4f8" stroke="#9464c4" stroke-width="1.1"/>
<path d="M236.8,415.8 L238.0,418.7 L237.4,419.5 L237.0,417.6 L236.2,418.1 L238.0,419.1 L238.9,416.1 L239.8,415.3 L236.4,417.8 L235.8,419.5 L235.2,415.9 L237.6,416.4" fill="none" stroke="#7a3cc0" stroke-width="1.0" stroke-linejoin="round" opacity="0.9"/>
<ellipse cx="198.7" cy="482.7" rx="8.45" ry="6.75" fill="#96f2dc" stroke="#52c0a2" stroke-width="1.1"/>
<path d="M195.7,481.2 L197.7,484.5 L199.29999999999998,482.5 L200.89999999999998,483.5 L201.89999999999998,481.09999999999997" fill="none" stroke="#1e6e5c" stroke-width="1.3" stroke-linejoin="round"/>
<ellipse cx="276.4" cy="286.8" rx="8.25" ry="6.55" fill="#cef4bc" stroke="#8aac7a" stroke-width="1.1"/>
<path d="M277.9,287.0 L279.0,285.5 L276.7,287.8 L273.7,288.6 L274.4,285.2 L276.4,285.9 L274.1,287.7 L279.4,285.3 L278.7,288.5 L275.1,284.3 L275.0,287.2 L278.6,286.5" fill="none" stroke="#30a840" stroke-width="1.0" stroke-linejoin="round" opacity="0.9"/>
<ellipse cx="329.9" cy="296.7" rx="8.25" ry="6.55" fill="#dad486" stroke="#929444" stroke-width="1.1"/>
<path d="M326.9,295.7 L328.9,294.7 L329.9,297.2 L331.4,295.9 L332.7,297.9 M328.4,298.5 L330.7,298.7" stroke="#70702a" stroke-width="0.9" fill="none"/>
<ellipse cx="316.6" cy="315.2" rx="8.25" ry="6.55" fill="#f2f8cc" stroke="#b2c284" stroke-width="1.1"/>
<path d="M313.1,317.0 L315.1,315.5 L316.1,316.2 L318.1,314.4 L320.1,313.4" stroke="#8a8a40" stroke-width="1.1" fill="none"/>
<ellipse cx="380.2" cy="290.7" rx="8.25" ry="6.55" fill="#f8caa4" stroke="#d09474" stroke-width="1.1"/>
<path d="M377.6,288.6 L381.0,288.6 L382.4,289.8 L382.0,290.2 L380.6,293.3 L379.8,293.0 L380.0,292.3 L382.8,291.5 L382.2,291.1 L381.2,289.3 L381.0,289.1 L378.1,291.0" fill="none" stroke="#c06a30" stroke-width="1.0" stroke-linejoin="round" opacity="0.9"/>
<ellipse cx="410.3" cy="310.1" rx="8.25" ry="6.55" fill="#a4e8f8" stroke="#52a8c2" stroke-width="1.1"/>
<path d="M408.5,308.1 L412.5,310.40000000000003 L408.7,312.1 Z" fill="#2e6cb0" opacity="0.8"/>
<ellipse cx="427.3" cy="318.8" rx="8.25" ry="6.55" fill="#a4e2f8" stroke="#52a2c2" stroke-width="1.1"/>
<path d="M425.9,316.8 L429.9,318.2 L428.3,318.4 L429.8,321.3 L428.0,320.7 L429.4,316.4 L428.4,317.9 L424.6,319.4 L425.3,319.8 L428.9,317.1 L429.4,317.8 L428.7,317.9" fill="none" stroke="#4080b0" stroke-width="1.0" stroke-linejoin="round" opacity="0.9"/>
<ellipse cx="484.5" cy="318.8" rx="8.25" ry="6.55" fill="#aae2f8" stroke="#549ac2" stroke-width="1.1"/>
<path d="M482.3,315.8 L486.5,321.8 M486.9,315.8 L482.3,321.8 M481.5,318.8 L487.5,318.3" stroke="#c0304e" stroke-width="1.1" fill="none"/>
<ellipse cx="401.5" cy="340.9" rx="8.25" ry="6.55" fill="#f8e2b4" stroke="#c2aa74" stroke-width="1.1"/>
<path d="M403.3,340.9 L401.6,339.5 L400.8,342.5 L400.4,341.8 L398.9,341.4 L404.5,340.9 L401.9,340.6 L399.0,339.3 L402.1,342.2 L402.3,341.9 L403.7,342.9 L404.3,341.6" fill="none" stroke="#d08888" stroke-width="1.0" stroke-linejoin="round" opacity="0.9"/>
<ellipse cx="506.4" cy="338.7" rx="8.25" ry="6.55" fill="#a4f0b4" stroke="#54b274" stroke-width="1.1"/>
<path d="M503.4,340.7 Q504.4,336.2 506.4,337.7 L506.4,340.7 M506.9,337.7 Q508.9,336.2 509.4,340.7" stroke="#1e6e3e" stroke-width="1.1" fill="none"/>
<ellipse cx="354.0" cy="349.8" rx="8.25" ry="6.55" fill="#f8cac4" stroke="#d09484" stroke-width="1.1"/>
<path d="M353.2,349.5 L356.8,348.6 L354.3,348.1 L352.6,351.3 L351.6,348.3 L355.9,349.3 L354.5,351.8 L354.3,351.6 L352.5,347.5 L353.4,347.8 L356.0,348.6 L351.3,351.5" fill="none" stroke="#d07888" stroke-width="1.0" stroke-linejoin="round" opacity="0.9"/>
<ellipse cx="399.1" cy="374.5" rx="8.25" ry="6.55" fill="#acf0a4" stroke="#62b264" stroke-width="1.1"/>
<path d="M397.3,374.1 L398.7,376.2 L398.8,376.5 L400.5,372.5 L397.4,376.3 L400.9,373.1 L398.8,376.1 L401.5,375.3 L400.1,373.6 L401.8,374.0 L398.8,372.3 L397.7,376.5" fill="none" stroke="#2e8e3e" stroke-width="1.0" stroke-linejoin="round" opacity="0.9"/>
<ellipse cx="446.8" cy="367.6" rx="8.25" ry="6.55" fill="#b4f0b4" stroke="#64b264" stroke-width="1.1"/>
<path d="M443.8,366.6 L445.8,365.6 L446.8,368.1 L448.3,366.8 L449.6,368.8 M445.3,369.40000000000003 L447.6,369.6" stroke="#5e8e5e" stroke-width="0.9" fill="none"/>
<ellipse cx="313.5" cy="384.0" rx="8.25" ry="6.55" fill="#b4daf8" stroke="#6492c2" stroke-width="1.1"/>
<path d="M313.0,380.8 Q314.5,383.0 313.2,384.5 T313.9,387.2" stroke="#5070b0" stroke-width="1" fill="none"/>
<ellipse cx="358.8" cy="393.7" rx="8.25" ry="6.55" fill="#dcf8b4" stroke="#a2c274" stroke-width="1.1"/>
<path d="M355.8,392.2 L357.8,395.5 L359.40000000000003,393.5 L361.0,394.5 L362.0,392.09999999999997" fill="none" stroke="#8ab040" stroke-width="1.3" stroke-linejoin="round"/>
<ellipse cx="359.1" cy="410.2" rx="8.25" ry="6.55" fill="#b4bcf2" stroke="#7282c2" stroke-width="1.1"/>
<path d="M361.8,411.2 L356.6,411.4 L360.4,410.1 L356.4,408.6 L359.5,408.9 L360.7,408.9 L357.4,410.6 L360.6,408.3 L357.3,411.9 L361.5,409.4 L356.1,409.6 L356.9,412.6" fill="none" stroke="#4050b0" stroke-width="1.0" stroke-linejoin="round" opacity="0.9"/>
<ellipse cx="301.5" cy="406.8" rx="8.25" ry="6.55" fill="#bcb4f2" stroke="#7474c2" stroke-width="1.1"/>
<path d="M299.0,407.1 L304.0,406.5" stroke="#5050a0" stroke-width="0.9" fill="none" opacity="0.8"/>
<ellipse cx="421.9" cy="403.1" rx="8.25" ry="6.55" fill="#b4caf8" stroke="#6484c4" stroke-width="1.1"/>
<path d="M419.4,401.7 L424.4,405.1 L423.6,400.7 L423.1,405.2 L421.1,404.4 L424.9,402.0 L421.6,403.7 L419.5,402.6 L419.8,403.2 L421.0,401.8 L421.6,404.4 L423.3,402.9" fill="none" stroke="#5060c0" stroke-width="1.0" stroke-linejoin="round" opacity="0.9"/>
<ellipse cx="444.0" cy="423.6" rx="8.25" ry="6.55" fill="#f8e2bc" stroke="#d0b284" stroke-width="1.1"/>
<path d="M441.5,423.90000000000003 L446.5,423.3" stroke="#c08050" stroke-width="0.9" fill="none" opacity="0.8"/>
<ellipse cx="475.7" cy="399.3" rx="8.25" ry="6.55" fill="#6cd68e" stroke="#1f7a3c" stroke-width="1.45"/>
<path d="M477.0,399.2 L474.3,399.0 L474.2,398.0 L475.1,397.2 L478.4,399.4 L475.4,400.4 L478.2,399.0 L473.2,399.8 L474.2,401.6 L473.3,400.0 L474.2,400.7 L478.1,401.3" fill="none" stroke="#1e5e2e" stroke-width="1.0" stroke-linejoin="round" opacity="0.9"/>
<ellipse cx="491.1" cy="439.0" rx="8.25" ry="6.55" fill="#b4e2f8" stroke="#62a2ca" stroke-width="1.1"/>
<path d="M489.3,437.0 L493.3,439.3 L489.5,441.0 Z" fill="#4060c0" opacity="0.8"/>
<ellipse cx="523.1" cy="472.2" rx="8.25" ry="6.55" fill="#f8f2b4" stroke="#c2ba74" stroke-width="1.1"/>
<path d="M520.1,473.2 Q523.1,470.0 526.1,472.8" stroke="#a09040" stroke-width="1" fill="none"/>
<ellipse cx="443.2" cy="466.2" rx="8.25" ry="6.55" fill="#acf2d4" stroke="#54a484" stroke-width="1.1"/>
<path d="M442.7,463.0 Q444.2,465.2 442.9,466.7 T443.59999999999997,469.4" stroke="#2e7e4e" stroke-width="1" fill="none"/>
<ellipse cx="324.8" cy="459.6" rx="8.25" ry="6.55" fill="#dabaf8" stroke="#9274d2" stroke-width="1.1"/>
<path d="M323.0,457.6 L327.0,459.90000000000003 L323.2,461.6 Z" fill="#b090e0" opacity="0.8"/>
<ellipse cx="391.6" cy="468.4" rx="8.25" ry="6.55" fill="#96f2ea" stroke="#44b2b2" stroke-width="1.1"/>
<path d="M389.1,468.7 L394.1,468.09999999999997" stroke="#409090" stroke-width="0.9" fill="none" opacity="0.8"/>
<ellipse cx="291.1" cy="494.2" rx="8.25" ry="6.55" fill="#a4f2ea" stroke="#54b2a4" stroke-width="1.1"/>
<path d="M288.6,494.5 L293.6,493.9" stroke="#60b0b0" stroke-width="0.9" fill="none" opacity="0.8"/>
</g>
<text transform="translate(91.30,301.70) scale(0.2750,0.2546)" font-size="20" fill="#2a2a2a" stroke="#2a2a2a" stroke-width="0.471">ZIC1</text>
<text transform="translate(109.20,334.80) scale(0.2750,0.2546)" font-size="20" fill="#2a2a2a" stroke="#2a2a2a" stroke-width="0.471">GLI1</text>
<text transform="translate(148.00,334.30) scale(0.2750,0.2546)" font-size="20" fill="#2a2a2a" stroke="#2a2a2a" stroke-width="0.471">SHH</text>
<text transform="translate(193.10,285.70) scale(0.2750,0.2546)" font-size="20" fill="#2a2a2a" stroke="#2a2a2a" stroke-width="0.471">CNTN2</text>
<text transform="translate(29.80,342.30) scale(0.2750,0.2546)" font-size="20" fill="#2a2a2a" stroke="#2a2a2a" stroke-width="0.471">EGR2</text>
<text transform="translate(69.30,397.50) scale(0.2750,0.2546)" font-size="20" fill="#2a2a2a" stroke="#2a2a2a" stroke-width="0.471">NGFR</text>
<text transform="translate(21.90,428.40) scale(0.2750,0.2546)" font-size="20" fill="#2a2a2a" stroke="#2a2a2a" stroke-width="0.471">BEX1</text>
<text transform="translate(103.60,425.10) scale(0.2750,0.2546)" font-size="20" fill="#2a2a2a" stroke="#2a2a2a" stroke-width="0.471">NTRK2</text>
<text transform="translate(133.90,385.90) scale(0.2750,0.2546)" font-size="20" fill="#2a2a2a" stroke="#2a2a2a" stroke-width="0.471">FGF7</text>
<text transform="translate(202.10,343.30) scale(0.2750,0.2546)" font-size="20" fill="#2a2a2a" stroke="#2a2a2a" stroke-width="0.471">RBFOX1</text>
<text transform="translate(256.00,336.10) scale(0.2750,0.2546)" font-size="20" fill="#2a2a2a" stroke="#2a2a2a" stroke-width="0.471">SRRM4</text>
<text transform="translate(224.80,361.90) scale(0.2750,0.2546)" font-size="20" fill="#2a2a2a" stroke="#2a2a2a" stroke-width="0.471">TRPM8</text>
<text transform="translate(171.30,368.20) scale(0.2750,0.2546)" font-size="20" fill="#2a2a2a" stroke="#2a2a2a" stroke-width="0.471">PHACTR1</text>
<text transform="translate(186.50,390.10) scale(0.2750,0.2546)" font-size="20" fill="#2a2a2a" stroke="#2a2a2a" stroke-width="0.471">VCX3A</text>
<text transform="translate(240.50,383.10) scale(0.2750,0.2546)" font-size="20" fill="#2a2a2a" stroke="#2a2a2a" stroke-width="0.471">VCX3B</text>
<text transform="translate(187.50,414.80) scale(0.2750,0.2546)" font-size="20" fill="#2a2a2a" stroke="#2a2a2a" stroke-width="0.471">TIMP1</text>
<text transform="translate(245.50,411.10) scale(0.2750,0.2546)" font-size="20" fill="#2a2a2a" stroke="#2a2a2a" stroke-width="0.471">ADAMTS1</text>
<text transform="translate(207.50,476.30) scale(0.2750,0.2546)" font-size="20" fill="#2a2a2a" stroke="#2a2a2a" stroke-width="0.471">CXCL13</text>
<text transform="translate(284.50,280.80) scale(0.2625,0.2431)" font-size="20" fill="#2a2a2a" stroke="#2a2a2a" stroke-width="0.494">PLS3</text>
<text transform="translate(338.00,290.80) scale(0.2625,0.2431)" font-size="20" fill="#2a2a2a" stroke="#2a2a2a" stroke-width="0.494">CPEB2</text>
<text transform="translate(324.50,309.20) scale(0.2625,0.2431)" font-size="20" fill="#2a2a2a" stroke="#2a2a2a" stroke-width="0.494">SH3GL3</text>
<text transform="translate(388.20,284.70) scale(0.2625,0.2431)" font-size="20" fill="#2a2a2a" stroke="#2a2a2a" stroke-width="0.494">PAPOLB</text>
<text transform="translate(418.30,304.00) scale(0.2625,0.2431)" font-size="20" fill="#2a2a2a" stroke="#2a2a2a" stroke-width="0.494">SLC1A3</text>
<text transform="translate(435.70,313.00) scale(0.2625,0.2431)" font-size="20" fill="#2a2a2a" stroke="#2a2a2a" stroke-width="0.494">TLR9</text>
<text transform="translate(493.00,313.00) scale(0.2625,0.2431)" font-size="20" fill="#2a2a2a" stroke="#2a2a2a" stroke-width="0.494">CX3CR1</text>
<text transform="translate(410.70,335.20) scale(0.2625,0.2431)" font-size="20" fill="#2a2a2a" stroke="#2a2a2a" stroke-width="0.494">PAK5</text>
<text transform="translate(514.40,332.90) scale(0.2625,0.2431)" font-size="20" fill="#2a2a2a" stroke="#2a2a2a" stroke-width="0.494">ARHGAP29</text>
<text transform="translate(362.00,344.00) scale(0.2625,0.2431)" font-size="20" fill="#2a2a2a" stroke="#2a2a2a" stroke-width="0.494">EGF</text>
<text transform="translate(408.00,367.90) scale(0.2625,0.2431)" font-size="20" fill="#2a2a2a" stroke="#2a2a2a" stroke-width="0.494">LOX</text>
<text transform="translate(455.00,361.50) scale(0.2625,0.2431)" font-size="20" fill="#2a2a2a" stroke="#2a2a2a" stroke-width="0.494">RHOD</text>
<text transform="translate(322.20,377.90) scale(0.2625,0.2431)" font-size="20" fill="#2a2a2a" stroke="#2a2a2a" stroke-width="0.494">PDGFB</text>
<text transform="translate(366.40,388.10) scale(0.2625,0.2431)" font-size="20" fill="#2a2a2a" stroke="#2a2a2a" stroke-width="0.494">FLT1</text>
<text transform="translate(367.10,405.10) scale(0.2625,0.2431)" font-size="20" fill="#2a2a2a" stroke="#2a2a2a" stroke-width="0.494">FTCD</text>
<text transform="translate(309.10,400.90) scale(0.2625,0.2431)" font-size="20" fill="#2a2a2a" stroke="#2a2a2a" stroke-width="0.494">POU4F2</text>
<text transform="translate(429.90,397.30) scale(0.2625,0.2431)" font-size="20" fill="#2a2a2a" stroke="#2a2a2a" stroke-width="0.494">GDA</text>
<text transform="translate(452.00,417.20) scale(0.2625,0.2431)" font-size="20" fill="#2a2a2a" stroke="#2a2a2a" stroke-width="0.494">PRICKLE2</text>
<text transform="translate(484.00,392.80) scale(0.2625,0.2431)" font-size="20" fill="#2a2a2a" stroke="#2a2a2a" stroke-width="0.494">CASP4</text>
<text transform="translate(499.00,433.10) scale(0.2625,0.2431)" font-size="20" fill="#2a2a2a" stroke="#2a2a2a" stroke-width="0.494">BIRC3</text>
<text transform="translate(531.10,466.10) scale(0.2625,0.2431)" font-size="20" fill="#2a2a2a" stroke="#2a2a2a" stroke-width="0.494">BCL3</text>
<text transform="translate(451.60,460.40) scale(0.2625,0.2431)" font-size="20" fill="#2a2a2a" stroke="#2a2a2a" stroke-width="0.494">FZD9</text>
<text transform="translate(333.10,453.60) scale(0.2625,0.2431)" font-size="20" fill="#2a2a2a" stroke="#2a2a2a" stroke-width="0.494">GAP43</text>
<text transform="translate(399.90,462.70) scale(0.2625,0.2431)" font-size="20" fill="#2a2a2a" stroke="#2a2a2a" stroke-width="0.494">GAL</text>
<text transform="translate(298.80,488.40) scale(0.2625,0.2431)" font-size="20" fill="#2a2a2a" stroke="#2a2a2a" stroke-width="0.494">NEFH</text>
<text transform="translate(9.00,273.80) scale(0.5750,0.5000)" font-size="20" font-weight="bold" fill="#000" stroke="#000" stroke-width="1.600">E</text>
<text transform="translate(318.00,274.40) scale(0.5750,0.5000)" font-size="20" font-weight="bold" fill="#000" stroke="#000" stroke-width="1.600">F</text>
</svg></body></html>
